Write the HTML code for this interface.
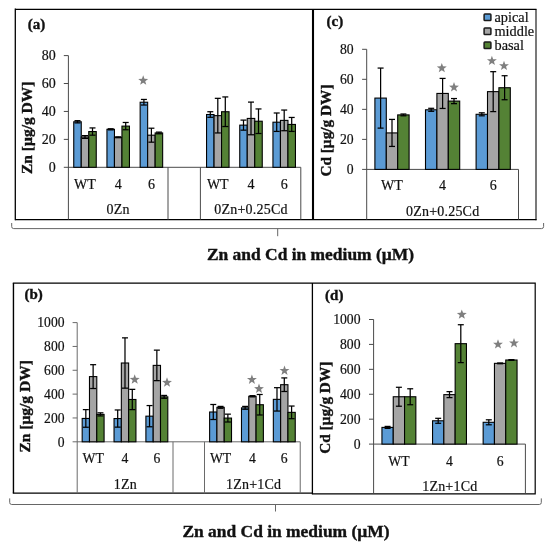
<!DOCTYPE html>
<html lang="en"><head><meta charset="utf-8"><title>Zn and Cd in medium</title>
<style>html,body{margin:0;padding:0;background:#fff;}body{width:550px;height:547px;overflow:hidden;}svg{display:block;font-family:"Liberation Serif","Times New Roman",serif;fill:#111;}text{stroke:#111;stroke-width:0.2px;}text.b{font-weight:bold;stroke-width:0.38px;}</style>
</head><body>
<svg width="550" height="547" viewBox="0 0 550 547">
<rect x="0" y="0" width="550" height="547" fill="#fff"/>
<line x1="15.30" y1="8.60" x2="15.30" y2="220.20" stroke="#000" stroke-width="1.3"/>
<line x1="15.30" y1="9.35" x2="536.50" y2="9.35" stroke="#000" stroke-width="1.3"/>
<line x1="536.00" y1="9.20" x2="536.00" y2="220.20" stroke="#000" stroke-width="1.05"/>
<line x1="15.30" y1="219.65" x2="536.50" y2="219.65" stroke="#000" stroke-width="1.15"/>
<line x1="313.00" y1="9.20" x2="313.00" y2="219.70" stroke="#000" stroke-width="2.1"/>
<path d="M12.8 283.1 H535.2 V493.8 H312.4" fill="none" stroke="#000" stroke-width="1.2"/>
<path d="M12.8 493.2 H312.4" fill="none" stroke="#000" stroke-width="1.2"/>
<line x1="13.45" y1="283.10" x2="13.45" y2="493.20" stroke="#000" stroke-width="1.4"/>
<line x1="312.40" y1="283.00" x2="312.40" y2="494.40" stroke="#000" stroke-width="1.3"/>
<path d="M11.7 223.0 V226.6 Q11.7 228.6 13.7 228.6 H541.6 Q543.6 228.6 543.6 226.6 V223.0" fill="none" stroke="#666" stroke-width="1"/>
<line x1="277.70" y1="228.60" x2="277.70" y2="236.20" stroke="#666" stroke-width="1"/>
<path d="M9.7 498.4 V502.5 Q9.7 504.5 11.7 504.5 H539.3 Q541.3 504.5 541.3 502.5 V498.4" fill="none" stroke="#666" stroke-width="1"/>
<line x1="275.50" y1="504.50" x2="275.50" y2="511.50" stroke="#666" stroke-width="1"/>
<text x="310.50" y="260.00" font-size="17.45" text-anchor="middle" class="b">Zn and Cd in medium (µM)</text>
<text x="286.00" y="537.00" font-size="17.45" text-anchor="middle" class="b">Zn and Cd in medium (µM)</text>
<text x="27.70" y="28.60" font-size="15" text-anchor="start" class="b">(a)</text>
<text x="326.50" y="26.00" font-size="15" text-anchor="start" class="b">(c)</text>
<text x="24.40" y="299.10" font-size="15" text-anchor="start" class="b">(b)</text>
<text x="325.10" y="300.30" font-size="15" text-anchor="start" class="b">(d)</text>
<text x="32.30" y="174.00" font-size="15.5" text-anchor="start" class="b" transform="rotate(-90 32.30 174.00)">Zn [µg/g DW]</text>
<text x="331.30" y="176.60" font-size="15.3" text-anchor="start" class="b" transform="rotate(-90 331.30 176.60)">Cd [µg/g DW]</text>
<text x="30.20" y="452.60" font-size="15.5" text-anchor="start" class="b" transform="rotate(-90 30.20 452.60)">Zn [µg/g DW]</text>
<text x="329.80" y="453.80" font-size="15.3" text-anchor="start" class="b" transform="rotate(-90 329.80 453.80)">Cd [µg/g DW]</text>
<line x1="68.40" y1="55.60" x2="68.40" y2="219.60" stroke="#4a4a4a" stroke-width="1"/>
<line x1="63.80" y1="167.30" x2="300.80" y2="167.30" stroke="#4a4a4a" stroke-width="1"/>
<line x1="63.80" y1="139.38" x2="68.40" y2="139.38" stroke="#4a4a4a" stroke-width="1"/>
<line x1="63.80" y1="111.45" x2="68.40" y2="111.45" stroke="#4a4a4a" stroke-width="1"/>
<line x1="63.80" y1="83.53" x2="68.40" y2="83.53" stroke="#4a4a4a" stroke-width="1"/>
<line x1="63.80" y1="55.60" x2="68.40" y2="55.60" stroke="#4a4a4a" stroke-width="1"/>
<text x="55.70" y="172.00" font-size="14" text-anchor="end" letter-spacing="0">0</text>
<text x="55.70" y="144.07" font-size="14" text-anchor="end" letter-spacing="0">20</text>
<text x="55.70" y="116.15" font-size="14" text-anchor="end" letter-spacing="0">40</text>
<text x="55.70" y="88.23" font-size="14" text-anchor="end" letter-spacing="0">60</text>
<text x="55.70" y="60.30" font-size="14" text-anchor="end" letter-spacing="0">80</text>
<line x1="168.00" y1="167.30" x2="168.00" y2="219.60" stroke="#4a4a4a" stroke-width="1"/>
<line x1="200.40" y1="167.30" x2="200.40" y2="219.60" stroke="#4a4a4a" stroke-width="1"/>
<line x1="300.80" y1="167.30" x2="300.80" y2="219.60" stroke="#4a4a4a" stroke-width="1"/>
<rect x="73.75" y="121.78" width="7.50" height="45.52" fill="#5b9bd5" stroke="#000" stroke-width="1.1"/>
<rect x="81.25" y="137.00" width="7.50" height="30.30" fill="#a5a5a5" stroke="#000" stroke-width="1.1"/>
<rect x="88.75" y="131.56" width="7.50" height="35.74" fill="#548235" stroke="#000" stroke-width="1.1"/>
<line x1="77.50" y1="120.67" x2="77.50" y2="122.90" stroke="#000" stroke-width="1.25"/>
<line x1="74.50" y1="120.67" x2="80.50" y2="120.67" stroke="#000" stroke-width="1.25"/>
<line x1="74.50" y1="122.90" x2="80.50" y2="122.90" stroke="#000" stroke-width="1.25"/>
<line x1="85.00" y1="135.61" x2="85.00" y2="138.40" stroke="#000" stroke-width="1.25"/>
<line x1="82.00" y1="135.61" x2="88.00" y2="135.61" stroke="#000" stroke-width="1.25"/>
<line x1="82.00" y1="138.40" x2="88.00" y2="138.40" stroke="#000" stroke-width="1.25"/>
<line x1="92.50" y1="127.93" x2="92.50" y2="135.19" stroke="#000" stroke-width="1.25"/>
<line x1="89.50" y1="127.93" x2="95.50" y2="127.93" stroke="#000" stroke-width="1.25"/>
<line x1="89.50" y1="135.19" x2="95.50" y2="135.19" stroke="#000" stroke-width="1.25"/>
<rect x="106.95" y="129.32" width="7.50" height="37.98" fill="#5b9bd5" stroke="#000" stroke-width="1.1"/>
<rect x="114.45" y="137.28" width="7.50" height="30.02" fill="#a5a5a5" stroke="#000" stroke-width="1.1"/>
<rect x="121.95" y="126.11" width="7.50" height="41.19" fill="#548235" stroke="#000" stroke-width="1.1"/>
<line x1="110.70" y1="128.76" x2="110.70" y2="129.88" stroke="#000" stroke-width="1.25"/>
<line x1="107.70" y1="128.76" x2="113.70" y2="128.76" stroke="#000" stroke-width="1.25"/>
<line x1="107.70" y1="129.88" x2="113.70" y2="129.88" stroke="#000" stroke-width="1.25"/>
<line x1="118.20" y1="136.86" x2="118.20" y2="137.70" stroke="#000" stroke-width="1.25"/>
<line x1="115.20" y1="136.86" x2="121.20" y2="136.86" stroke="#000" stroke-width="1.25"/>
<line x1="115.20" y1="137.70" x2="121.20" y2="137.70" stroke="#000" stroke-width="1.25"/>
<line x1="125.70" y1="122.48" x2="125.70" y2="129.74" stroke="#000" stroke-width="1.25"/>
<line x1="122.70" y1="122.48" x2="128.70" y2="122.48" stroke="#000" stroke-width="1.25"/>
<line x1="122.70" y1="129.74" x2="128.70" y2="129.74" stroke="#000" stroke-width="1.25"/>
<rect x="140.15" y="102.23" width="7.50" height="65.07" fill="#5b9bd5" stroke="#000" stroke-width="1.1"/>
<rect x="147.65" y="135.19" width="7.50" height="32.11" fill="#a5a5a5" stroke="#000" stroke-width="1.1"/>
<rect x="155.15" y="132.95" width="7.50" height="34.35" fill="#548235" stroke="#000" stroke-width="1.1"/>
<line x1="143.90" y1="99.44" x2="143.90" y2="105.03" stroke="#000" stroke-width="1.25"/>
<line x1="140.90" y1="99.44" x2="146.90" y2="99.44" stroke="#000" stroke-width="1.25"/>
<line x1="140.90" y1="105.03" x2="146.90" y2="105.03" stroke="#000" stroke-width="1.25"/>
<line x1="151.40" y1="128.21" x2="151.40" y2="142.17" stroke="#000" stroke-width="1.25"/>
<line x1="148.40" y1="128.21" x2="154.40" y2="128.21" stroke="#000" stroke-width="1.25"/>
<line x1="148.40" y1="142.17" x2="154.40" y2="142.17" stroke="#000" stroke-width="1.25"/>
<line x1="158.90" y1="132.11" x2="158.90" y2="133.79" stroke="#000" stroke-width="1.25"/>
<line x1="155.90" y1="132.11" x2="161.90" y2="132.11" stroke="#000" stroke-width="1.25"/>
<line x1="155.90" y1="133.79" x2="161.90" y2="133.79" stroke="#000" stroke-width="1.25"/>
<rect x="206.55" y="114.52" width="7.50" height="52.78" fill="#5b9bd5" stroke="#000" stroke-width="1.1"/>
<rect x="214.05" y="115.64" width="7.50" height="51.66" fill="#a5a5a5" stroke="#000" stroke-width="1.1"/>
<rect x="221.55" y="111.73" width="7.50" height="55.57" fill="#548235" stroke="#000" stroke-width="1.1"/>
<line x1="210.30" y1="111.73" x2="210.30" y2="117.31" stroke="#000" stroke-width="1.25"/>
<line x1="207.30" y1="111.73" x2="213.30" y2="111.73" stroke="#000" stroke-width="1.25"/>
<line x1="207.30" y1="117.31" x2="213.30" y2="117.31" stroke="#000" stroke-width="1.25"/>
<line x1="217.80" y1="98.33" x2="217.80" y2="132.95" stroke="#000" stroke-width="1.25"/>
<line x1="214.80" y1="98.33" x2="220.80" y2="98.33" stroke="#000" stroke-width="1.25"/>
<line x1="214.80" y1="132.95" x2="220.80" y2="132.95" stroke="#000" stroke-width="1.25"/>
<line x1="225.30" y1="96.93" x2="225.30" y2="126.53" stroke="#000" stroke-width="1.25"/>
<line x1="222.30" y1="96.93" x2="228.30" y2="96.93" stroke="#000" stroke-width="1.25"/>
<line x1="222.30" y1="126.53" x2="228.30" y2="126.53" stroke="#000" stroke-width="1.25"/>
<rect x="239.75" y="125.13" width="7.50" height="42.17" fill="#5b9bd5" stroke="#000" stroke-width="1.1"/>
<rect x="247.25" y="118.43" width="7.50" height="48.87" fill="#a5a5a5" stroke="#000" stroke-width="1.1"/>
<rect x="254.75" y="121.22" width="7.50" height="46.08" fill="#548235" stroke="#000" stroke-width="1.1"/>
<line x1="243.50" y1="120.11" x2="243.50" y2="130.16" stroke="#000" stroke-width="1.25"/>
<line x1="240.50" y1="120.11" x2="246.50" y2="120.11" stroke="#000" stroke-width="1.25"/>
<line x1="240.50" y1="130.16" x2="246.50" y2="130.16" stroke="#000" stroke-width="1.25"/>
<line x1="251.00" y1="102.10" x2="251.00" y2="134.77" stroke="#000" stroke-width="1.25"/>
<line x1="248.00" y1="102.10" x2="254.00" y2="102.10" stroke="#000" stroke-width="1.25"/>
<line x1="248.00" y1="134.77" x2="254.00" y2="134.77" stroke="#000" stroke-width="1.25"/>
<line x1="258.50" y1="108.94" x2="258.50" y2="133.51" stroke="#000" stroke-width="1.25"/>
<line x1="255.50" y1="108.94" x2="261.50" y2="108.94" stroke="#000" stroke-width="1.25"/>
<line x1="255.50" y1="133.51" x2="261.50" y2="133.51" stroke="#000" stroke-width="1.25"/>
<rect x="272.95" y="122.20" width="7.50" height="45.10" fill="#5b9bd5" stroke="#000" stroke-width="1.1"/>
<rect x="280.45" y="120.39" width="7.50" height="46.91" fill="#a5a5a5" stroke="#000" stroke-width="1.1"/>
<rect x="287.95" y="124.44" width="7.50" height="42.86" fill="#548235" stroke="#000" stroke-width="1.1"/>
<line x1="276.70" y1="112.99" x2="276.70" y2="131.42" stroke="#000" stroke-width="1.25"/>
<line x1="273.70" y1="112.99" x2="279.70" y2="112.99" stroke="#000" stroke-width="1.25"/>
<line x1="273.70" y1="131.42" x2="279.70" y2="131.42" stroke="#000" stroke-width="1.25"/>
<line x1="284.20" y1="110.05" x2="284.20" y2="130.72" stroke="#000" stroke-width="1.25"/>
<line x1="281.20" y1="110.05" x2="287.20" y2="110.05" stroke="#000" stroke-width="1.25"/>
<line x1="281.20" y1="130.72" x2="287.20" y2="130.72" stroke="#000" stroke-width="1.25"/>
<line x1="291.70" y1="117.45" x2="291.70" y2="131.42" stroke="#000" stroke-width="1.25"/>
<line x1="288.70" y1="117.45" x2="294.70" y2="117.45" stroke="#000" stroke-width="1.25"/>
<line x1="288.70" y1="131.42" x2="294.70" y2="131.42" stroke="#000" stroke-width="1.25"/>
<text x="85.00" y="188.90" font-size="14" text-anchor="middle">WT</text>
<text x="118.20" y="188.90" font-size="14" text-anchor="middle">4</text>
<text x="151.40" y="188.90" font-size="14" text-anchor="middle">6</text>
<text x="217.80" y="188.90" font-size="14" text-anchor="middle">WT</text>
<text x="251.00" y="188.90" font-size="14" text-anchor="middle">4</text>
<text x="284.20" y="188.90" font-size="14" text-anchor="middle">6</text>
<text x="118.20" y="214.00" font-size="14" text-anchor="middle" letter-spacing="0.2">0Zn</text>
<text x="251.00" y="214.00" font-size="14" text-anchor="middle" letter-spacing="0.2">0Zn+0.25Cd</text>
<polygon points="143.20,75.29 144.45,78.77 148.15,78.89 145.23,81.15 146.26,84.70 143.20,82.63 140.14,84.70 141.17,81.15 138.25,78.89 141.95,78.77" fill="#7f7f7f"/>
<line x1="366.70" y1="49.30" x2="366.70" y2="219.60" stroke="#4a4a4a" stroke-width="1"/>
<line x1="362.10" y1="169.40" x2="518.50" y2="169.40" stroke="#4a4a4a" stroke-width="1"/>
<line x1="362.10" y1="139.38" x2="366.70" y2="139.38" stroke="#4a4a4a" stroke-width="1"/>
<line x1="362.10" y1="109.35" x2="366.70" y2="109.35" stroke="#4a4a4a" stroke-width="1"/>
<line x1="362.10" y1="79.32" x2="366.70" y2="79.32" stroke="#4a4a4a" stroke-width="1"/>
<line x1="362.10" y1="49.30" x2="366.70" y2="49.30" stroke="#4a4a4a" stroke-width="1"/>
<text x="353.70" y="174.10" font-size="13.7" text-anchor="end" letter-spacing="0">0</text>
<text x="353.70" y="144.07" font-size="13.7" text-anchor="end" letter-spacing="0">20</text>
<text x="353.70" y="114.05" font-size="13.7" text-anchor="end" letter-spacing="0">40</text>
<text x="353.70" y="84.02" font-size="13.7" text-anchor="end" letter-spacing="0">60</text>
<text x="353.70" y="54.00" font-size="13.7" text-anchor="end" letter-spacing="0">80</text>
<line x1="518.50" y1="169.40" x2="518.50" y2="219.60" stroke="#4a4a4a" stroke-width="1"/>
<rect x="374.90" y="98.09" width="11.40" height="71.31" fill="#5b9bd5" stroke="#000" stroke-width="1.1"/>
<rect x="386.30" y="132.92" width="11.40" height="36.48" fill="#a5a5a5" stroke="#000" stroke-width="1.1"/>
<rect x="397.70" y="114.90" width="11.40" height="54.50" fill="#548235" stroke="#000" stroke-width="1.1"/>
<line x1="380.60" y1="68.07" x2="380.60" y2="128.12" stroke="#000" stroke-width="1.25"/>
<line x1="377.60" y1="68.07" x2="383.60" y2="68.07" stroke="#000" stroke-width="1.25"/>
<line x1="377.60" y1="128.12" x2="383.60" y2="128.12" stroke="#000" stroke-width="1.25"/>
<line x1="392.00" y1="119.41" x2="392.00" y2="146.43" stroke="#000" stroke-width="1.25"/>
<line x1="389.00" y1="119.41" x2="395.00" y2="119.41" stroke="#000" stroke-width="1.25"/>
<line x1="389.00" y1="146.43" x2="395.00" y2="146.43" stroke="#000" stroke-width="1.25"/>
<line x1="403.40" y1="114.00" x2="403.40" y2="115.81" stroke="#000" stroke-width="1.25"/>
<line x1="400.40" y1="114.00" x2="406.40" y2="114.00" stroke="#000" stroke-width="1.25"/>
<line x1="400.40" y1="115.81" x2="406.40" y2="115.81" stroke="#000" stroke-width="1.25"/>
<rect x="425.50" y="109.80" width="11.40" height="59.60" fill="#5b9bd5" stroke="#000" stroke-width="1.1"/>
<rect x="436.90" y="93.44" width="11.40" height="75.96" fill="#a5a5a5" stroke="#000" stroke-width="1.1"/>
<rect x="448.30" y="101.09" width="11.40" height="68.31" fill="#548235" stroke="#000" stroke-width="1.1"/>
<line x1="431.20" y1="108.30" x2="431.20" y2="111.30" stroke="#000" stroke-width="1.25"/>
<line x1="428.20" y1="108.30" x2="434.20" y2="108.30" stroke="#000" stroke-width="1.25"/>
<line x1="428.20" y1="111.30" x2="434.20" y2="111.30" stroke="#000" stroke-width="1.25"/>
<line x1="442.60" y1="78.42" x2="442.60" y2="108.45" stroke="#000" stroke-width="1.25"/>
<line x1="439.60" y1="78.42" x2="445.60" y2="78.42" stroke="#000" stroke-width="1.25"/>
<line x1="439.60" y1="108.45" x2="445.60" y2="108.45" stroke="#000" stroke-width="1.25"/>
<line x1="454.00" y1="98.54" x2="454.00" y2="103.65" stroke="#000" stroke-width="1.25"/>
<line x1="451.00" y1="98.54" x2="457.00" y2="98.54" stroke="#000" stroke-width="1.25"/>
<line x1="451.00" y1="103.65" x2="457.00" y2="103.65" stroke="#000" stroke-width="1.25"/>
<rect x="476.10" y="114.30" width="11.40" height="55.10" fill="#5b9bd5" stroke="#000" stroke-width="1.1"/>
<rect x="487.50" y="91.64" width="11.40" height="77.76" fill="#a5a5a5" stroke="#000" stroke-width="1.1"/>
<rect x="498.90" y="87.73" width="11.40" height="81.67" fill="#548235" stroke="#000" stroke-width="1.1"/>
<line x1="481.80" y1="112.80" x2="481.80" y2="115.81" stroke="#000" stroke-width="1.25"/>
<line x1="478.80" y1="112.80" x2="484.80" y2="112.80" stroke="#000" stroke-width="1.25"/>
<line x1="478.80" y1="115.81" x2="484.80" y2="115.81" stroke="#000" stroke-width="1.25"/>
<line x1="493.20" y1="71.67" x2="493.20" y2="111.60" stroke="#000" stroke-width="1.25"/>
<line x1="490.20" y1="71.67" x2="496.20" y2="71.67" stroke="#000" stroke-width="1.25"/>
<line x1="490.20" y1="111.60" x2="496.20" y2="111.60" stroke="#000" stroke-width="1.25"/>
<line x1="504.60" y1="75.72" x2="504.60" y2="99.74" stroke="#000" stroke-width="1.25"/>
<line x1="501.60" y1="75.72" x2="507.60" y2="75.72" stroke="#000" stroke-width="1.25"/>
<line x1="501.60" y1="99.74" x2="507.60" y2="99.74" stroke="#000" stroke-width="1.25"/>
<text x="392.00" y="190.20" font-size="14" text-anchor="middle">WT</text>
<text x="442.60" y="190.20" font-size="14" text-anchor="middle">4</text>
<text x="493.20" y="190.20" font-size="14" text-anchor="middle">6</text>
<text x="442.70" y="215.60" font-size="14" text-anchor="middle" letter-spacing="0.2">0Zn+0.25Cd</text>
<polygon points="441.80,62.89 443.05,66.37 446.75,66.49 443.83,68.75 444.86,72.30 441.80,70.23 438.74,72.30 439.77,68.75 436.85,66.49 440.55,66.37" fill="#7f7f7f"/>
<polygon points="454.00,82.09 455.25,85.57 458.95,85.69 456.03,87.95 457.06,91.50 454.00,89.43 450.94,91.50 451.97,87.95 449.05,85.69 452.75,85.57" fill="#7f7f7f"/>
<polygon points="491.90,55.69 493.15,59.17 496.85,59.29 493.93,61.55 494.96,65.10 491.90,63.03 488.84,65.10 489.87,61.55 486.95,59.29 490.65,59.17" fill="#7f7f7f"/>
<polygon points="504.00,60.69 505.25,64.17 508.95,64.29 506.03,66.55 507.06,70.10 504.00,68.03 500.94,70.10 501.97,66.55 499.05,64.29 502.75,64.17" fill="#7f7f7f"/>
<line x1="77.20" y1="322.60" x2="77.20" y2="493.30" stroke="#6a6a6a" stroke-width="1"/>
<line x1="72.60" y1="441.80" x2="300.22" y2="441.80" stroke="#6a6a6a" stroke-width="1"/>
<line x1="72.60" y1="417.96" x2="77.20" y2="417.96" stroke="#6a6a6a" stroke-width="1"/>
<line x1="72.60" y1="394.12" x2="77.20" y2="394.12" stroke="#6a6a6a" stroke-width="1"/>
<line x1="72.60" y1="370.28" x2="77.20" y2="370.28" stroke="#6a6a6a" stroke-width="1"/>
<line x1="72.60" y1="346.44" x2="77.20" y2="346.44" stroke="#6a6a6a" stroke-width="1"/>
<line x1="72.60" y1="322.60" x2="77.20" y2="322.60" stroke="#6a6a6a" stroke-width="1"/>
<text x="64.50" y="446.50" font-size="13.6" text-anchor="end" letter-spacing="0">0</text>
<text x="64.50" y="422.66" font-size="13.6" text-anchor="end" letter-spacing="0">200</text>
<text x="64.50" y="398.82" font-size="13.6" text-anchor="end" letter-spacing="0">400</text>
<text x="64.50" y="374.98" font-size="13.6" text-anchor="end" letter-spacing="0">600</text>
<text x="64.50" y="351.14" font-size="13.6" text-anchor="end" letter-spacing="0">800</text>
<text x="64.50" y="327.30" font-size="13.6" text-anchor="end" letter-spacing="0">1000</text>
<line x1="173.00" y1="441.80" x2="173.00" y2="493.30" stroke="#6a6a6a" stroke-width="1"/>
<line x1="204.50" y1="441.80" x2="204.50" y2="493.30" stroke="#6a6a6a" stroke-width="1"/>
<line x1="300.22" y1="441.80" x2="300.22" y2="493.30" stroke="#6a6a6a" stroke-width="1"/>
<rect x="82.18" y="418.44" width="7.30" height="23.36" fill="#5b9bd5" stroke="#000" stroke-width="1.1"/>
<rect x="89.48" y="376.60" width="7.30" height="65.20" fill="#a5a5a5" stroke="#000" stroke-width="1.1"/>
<rect x="96.78" y="414.38" width="7.30" height="27.42" fill="#548235" stroke="#000" stroke-width="1.1"/>
<line x1="85.83" y1="409.62" x2="85.83" y2="427.26" stroke="#000" stroke-width="1.25"/>
<line x1="82.83" y1="409.62" x2="88.83" y2="409.62" stroke="#000" stroke-width="1.25"/>
<line x1="82.83" y1="427.26" x2="88.83" y2="427.26" stroke="#000" stroke-width="1.25"/>
<line x1="93.13" y1="364.68" x2="93.13" y2="388.52" stroke="#000" stroke-width="1.25"/>
<line x1="90.13" y1="364.68" x2="96.13" y2="364.68" stroke="#000" stroke-width="1.25"/>
<line x1="90.13" y1="388.52" x2="96.13" y2="388.52" stroke="#000" stroke-width="1.25"/>
<line x1="100.43" y1="412.83" x2="100.43" y2="415.93" stroke="#000" stroke-width="1.25"/>
<line x1="97.43" y1="412.83" x2="103.43" y2="412.83" stroke="#000" stroke-width="1.25"/>
<line x1="97.43" y1="415.93" x2="103.43" y2="415.93" stroke="#000" stroke-width="1.25"/>
<rect x="114.04" y="418.56" width="7.30" height="23.24" fill="#5b9bd5" stroke="#000" stroke-width="1.1"/>
<rect x="121.34" y="363.01" width="7.30" height="78.79" fill="#a5a5a5" stroke="#000" stroke-width="1.1"/>
<rect x="128.64" y="399.48" width="7.30" height="42.32" fill="#548235" stroke="#000" stroke-width="1.1"/>
<line x1="117.69" y1="409.97" x2="117.69" y2="427.14" stroke="#000" stroke-width="1.25"/>
<line x1="114.69" y1="409.97" x2="120.69" y2="409.97" stroke="#000" stroke-width="1.25"/>
<line x1="114.69" y1="427.14" x2="120.69" y2="427.14" stroke="#000" stroke-width="1.25"/>
<line x1="124.99" y1="337.86" x2="124.99" y2="388.16" stroke="#000" stroke-width="1.25"/>
<line x1="121.99" y1="337.86" x2="127.99" y2="337.86" stroke="#000" stroke-width="1.25"/>
<line x1="121.99" y1="388.16" x2="127.99" y2="388.16" stroke="#000" stroke-width="1.25"/>
<line x1="132.29" y1="389.35" x2="132.29" y2="409.62" stroke="#000" stroke-width="1.25"/>
<line x1="129.29" y1="389.35" x2="135.29" y2="389.35" stroke="#000" stroke-width="1.25"/>
<line x1="129.29" y1="409.62" x2="135.29" y2="409.62" stroke="#000" stroke-width="1.25"/>
<rect x="145.90" y="416.17" width="7.30" height="25.63" fill="#5b9bd5" stroke="#000" stroke-width="1.1"/>
<rect x="153.20" y="365.39" width="7.30" height="76.41" fill="#a5a5a5" stroke="#000" stroke-width="1.1"/>
<rect x="160.50" y="396.86" width="7.30" height="44.94" fill="#548235" stroke="#000" stroke-width="1.1"/>
<line x1="149.55" y1="405.56" x2="149.55" y2="426.78" stroke="#000" stroke-width="1.25"/>
<line x1="146.55" y1="405.56" x2="152.55" y2="405.56" stroke="#000" stroke-width="1.25"/>
<line x1="146.55" y1="426.78" x2="152.55" y2="426.78" stroke="#000" stroke-width="1.25"/>
<line x1="156.85" y1="350.14" x2="156.85" y2="380.65" stroke="#000" stroke-width="1.25"/>
<line x1="153.85" y1="350.14" x2="159.85" y2="350.14" stroke="#000" stroke-width="1.25"/>
<line x1="153.85" y1="380.65" x2="159.85" y2="380.65" stroke="#000" stroke-width="1.25"/>
<line x1="164.15" y1="395.43" x2="164.15" y2="398.29" stroke="#000" stroke-width="1.25"/>
<line x1="161.15" y1="395.43" x2="167.15" y2="395.43" stroke="#000" stroke-width="1.25"/>
<line x1="161.15" y1="398.29" x2="167.15" y2="398.29" stroke="#000" stroke-width="1.25"/>
<rect x="209.62" y="412.00" width="7.30" height="29.80" fill="#5b9bd5" stroke="#000" stroke-width="1.1"/>
<rect x="216.92" y="407.35" width="7.30" height="34.45" fill="#a5a5a5" stroke="#000" stroke-width="1.1"/>
<rect x="224.22" y="418.08" width="7.30" height="23.72" fill="#548235" stroke="#000" stroke-width="1.1"/>
<line x1="213.27" y1="404.49" x2="213.27" y2="419.51" stroke="#000" stroke-width="1.25"/>
<line x1="210.27" y1="404.49" x2="216.27" y2="404.49" stroke="#000" stroke-width="1.25"/>
<line x1="210.27" y1="419.51" x2="216.27" y2="419.51" stroke="#000" stroke-width="1.25"/>
<line x1="220.57" y1="406.40" x2="220.57" y2="408.30" stroke="#000" stroke-width="1.25"/>
<line x1="217.57" y1="406.40" x2="223.57" y2="406.40" stroke="#000" stroke-width="1.25"/>
<line x1="217.57" y1="408.30" x2="223.57" y2="408.30" stroke="#000" stroke-width="1.25"/>
<line x1="227.87" y1="414.15" x2="227.87" y2="422.01" stroke="#000" stroke-width="1.25"/>
<line x1="224.87" y1="414.15" x2="230.87" y2="414.15" stroke="#000" stroke-width="1.25"/>
<line x1="224.87" y1="422.01" x2="230.87" y2="422.01" stroke="#000" stroke-width="1.25"/>
<rect x="241.48" y="407.83" width="7.30" height="33.97" fill="#5b9bd5" stroke="#000" stroke-width="1.1"/>
<rect x="248.78" y="396.27" width="7.30" height="45.53" fill="#a5a5a5" stroke="#000" stroke-width="1.1"/>
<rect x="256.08" y="404.73" width="7.30" height="37.07" fill="#548235" stroke="#000" stroke-width="1.1"/>
<line x1="245.13" y1="406.40" x2="245.13" y2="409.26" stroke="#000" stroke-width="1.25"/>
<line x1="242.13" y1="406.40" x2="248.13" y2="406.40" stroke="#000" stroke-width="1.25"/>
<line x1="242.13" y1="409.26" x2="248.13" y2="409.26" stroke="#000" stroke-width="1.25"/>
<line x1="252.43" y1="395.67" x2="252.43" y2="396.86" stroke="#000" stroke-width="1.25"/>
<line x1="249.43" y1="395.67" x2="255.43" y2="395.67" stroke="#000" stroke-width="1.25"/>
<line x1="249.43" y1="396.86" x2="255.43" y2="396.86" stroke="#000" stroke-width="1.25"/>
<line x1="259.73" y1="394.48" x2="259.73" y2="414.98" stroke="#000" stroke-width="1.25"/>
<line x1="256.73" y1="394.48" x2="262.73" y2="394.48" stroke="#000" stroke-width="1.25"/>
<line x1="256.73" y1="414.98" x2="262.73" y2="414.98" stroke="#000" stroke-width="1.25"/>
<rect x="273.34" y="399.36" width="7.30" height="42.44" fill="#5b9bd5" stroke="#000" stroke-width="1.1"/>
<rect x="280.64" y="384.70" width="7.30" height="57.10" fill="#a5a5a5" stroke="#000" stroke-width="1.1"/>
<rect x="287.94" y="412.36" width="7.30" height="29.44" fill="#548235" stroke="#000" stroke-width="1.1"/>
<line x1="276.99" y1="387.68" x2="276.99" y2="411.05" stroke="#000" stroke-width="1.25"/>
<line x1="273.99" y1="387.68" x2="279.99" y2="387.68" stroke="#000" stroke-width="1.25"/>
<line x1="273.99" y1="411.05" x2="279.99" y2="411.05" stroke="#000" stroke-width="1.25"/>
<line x1="284.29" y1="377.91" x2="284.29" y2="391.50" stroke="#000" stroke-width="1.25"/>
<line x1="281.29" y1="377.91" x2="287.29" y2="377.91" stroke="#000" stroke-width="1.25"/>
<line x1="281.29" y1="391.50" x2="287.29" y2="391.50" stroke="#000" stroke-width="1.25"/>
<line x1="291.59" y1="406.04" x2="291.59" y2="418.68" stroke="#000" stroke-width="1.25"/>
<line x1="288.59" y1="406.04" x2="294.59" y2="406.04" stroke="#000" stroke-width="1.25"/>
<line x1="288.59" y1="418.68" x2="294.59" y2="418.68" stroke="#000" stroke-width="1.25"/>
<text x="93.13" y="462.80" font-size="13.7" text-anchor="middle">WT</text>
<text x="124.99" y="462.80" font-size="13.7" text-anchor="middle">4</text>
<text x="156.85" y="462.80" font-size="13.7" text-anchor="middle">6</text>
<text x="220.57" y="462.80" font-size="13.7" text-anchor="middle">WT</text>
<text x="252.43" y="462.80" font-size="13.7" text-anchor="middle">4</text>
<text x="284.29" y="462.80" font-size="13.7" text-anchor="middle">6</text>
<text x="125.30" y="488.70" font-size="14" text-anchor="middle" letter-spacing="0.2">1Zn</text>
<text x="253.70" y="488.70" font-size="14" text-anchor="middle" letter-spacing="0.2">1Zn+1Cd</text>
<polygon points="134.70,374.29 135.95,377.77 139.65,377.89 136.73,380.15 137.76,383.70 134.70,381.63 131.64,383.70 132.67,380.15 129.75,377.89 133.45,377.77" fill="#7f7f7f"/>
<polygon points="167.00,377.29 168.25,380.77 171.95,380.89 169.03,383.15 170.06,386.70 167.00,384.63 163.94,386.70 164.97,383.15 162.05,380.89 165.75,380.77" fill="#7f7f7f"/>
<polygon points="251.90,374.49 253.15,377.97 256.85,378.09 253.93,380.35 254.96,383.90 251.90,381.83 248.84,383.90 249.87,380.35 246.95,378.09 250.65,377.97" fill="#7f7f7f"/>
<polygon points="259.00,383.59 260.25,387.07 263.95,387.19 261.03,389.45 262.06,393.00 259.00,390.93 255.94,393.00 256.97,389.45 254.05,387.19 257.75,387.07" fill="#7f7f7f"/>
<polygon points="284.50,365.49 285.75,368.97 289.45,369.09 286.53,371.35 287.56,374.90 284.50,372.83 281.44,374.90 282.47,371.35 279.55,369.09 283.25,368.97" fill="#7f7f7f"/>
<line x1="373.60" y1="319.50" x2="373.60" y2="493.30" stroke="#4a4a4a" stroke-width="1"/>
<line x1="369.00" y1="444.10" x2="525.40" y2="444.10" stroke="#4a4a4a" stroke-width="1"/>
<line x1="369.00" y1="419.18" x2="373.60" y2="419.18" stroke="#4a4a4a" stroke-width="1"/>
<line x1="369.00" y1="394.26" x2="373.60" y2="394.26" stroke="#4a4a4a" stroke-width="1"/>
<line x1="369.00" y1="369.34" x2="373.60" y2="369.34" stroke="#4a4a4a" stroke-width="1"/>
<line x1="369.00" y1="344.42" x2="373.60" y2="344.42" stroke="#4a4a4a" stroke-width="1"/>
<line x1="369.00" y1="319.50" x2="373.60" y2="319.50" stroke="#4a4a4a" stroke-width="1"/>
<text x="360.50" y="448.80" font-size="13.7" text-anchor="end" letter-spacing="0">0</text>
<text x="360.50" y="423.88" font-size="13.7" text-anchor="end" letter-spacing="0">200</text>
<text x="360.50" y="398.96" font-size="13.7" text-anchor="end" letter-spacing="0">400</text>
<text x="360.50" y="374.04" font-size="13.7" text-anchor="end" letter-spacing="0">600</text>
<text x="360.50" y="349.12" font-size="13.7" text-anchor="end" letter-spacing="0">800</text>
<text x="360.50" y="324.20" font-size="13.7" text-anchor="end" letter-spacing="0">1000</text>
<line x1="525.40" y1="444.10" x2="525.40" y2="493.30" stroke="#4a4a4a" stroke-width="1"/>
<rect x="381.95" y="427.40" width="11.30" height="16.70" fill="#5b9bd5" stroke="#000" stroke-width="1.1"/>
<rect x="393.25" y="396.75" width="11.30" height="47.35" fill="#a5a5a5" stroke="#000" stroke-width="1.1"/>
<rect x="404.55" y="396.75" width="11.30" height="47.35" fill="#548235" stroke="#000" stroke-width="1.1"/>
<line x1="387.60" y1="426.41" x2="387.60" y2="428.40" stroke="#000" stroke-width="1.25"/>
<line x1="384.60" y1="426.41" x2="390.60" y2="426.41" stroke="#000" stroke-width="1.25"/>
<line x1="384.60" y1="428.40" x2="390.60" y2="428.40" stroke="#000" stroke-width="1.25"/>
<line x1="398.90" y1="387.28" x2="398.90" y2="406.22" stroke="#000" stroke-width="1.25"/>
<line x1="395.90" y1="387.28" x2="401.90" y2="387.28" stroke="#000" stroke-width="1.25"/>
<line x1="395.90" y1="406.22" x2="401.90" y2="406.22" stroke="#000" stroke-width="1.25"/>
<line x1="410.20" y1="388.78" x2="410.20" y2="404.73" stroke="#000" stroke-width="1.25"/>
<line x1="407.20" y1="388.78" x2="413.20" y2="388.78" stroke="#000" stroke-width="1.25"/>
<line x1="407.20" y1="404.73" x2="413.20" y2="404.73" stroke="#000" stroke-width="1.25"/>
<rect x="432.55" y="420.80" width="11.30" height="23.30" fill="#5b9bd5" stroke="#000" stroke-width="1.1"/>
<rect x="443.85" y="394.63" width="11.30" height="49.47" fill="#a5a5a5" stroke="#000" stroke-width="1.1"/>
<rect x="455.15" y="343.67" width="11.30" height="100.43" fill="#548235" stroke="#000" stroke-width="1.1"/>
<line x1="438.20" y1="418.31" x2="438.20" y2="423.29" stroke="#000" stroke-width="1.25"/>
<line x1="435.20" y1="418.31" x2="441.20" y2="418.31" stroke="#000" stroke-width="1.25"/>
<line x1="435.20" y1="423.29" x2="441.20" y2="423.29" stroke="#000" stroke-width="1.25"/>
<line x1="449.50" y1="391.64" x2="449.50" y2="397.62" stroke="#000" stroke-width="1.25"/>
<line x1="446.50" y1="391.64" x2="452.50" y2="391.64" stroke="#000" stroke-width="1.25"/>
<line x1="446.50" y1="397.62" x2="452.50" y2="397.62" stroke="#000" stroke-width="1.25"/>
<line x1="460.80" y1="324.73" x2="460.80" y2="362.61" stroke="#000" stroke-width="1.25"/>
<line x1="457.80" y1="324.73" x2="463.80" y2="324.73" stroke="#000" stroke-width="1.25"/>
<line x1="457.80" y1="362.61" x2="463.80" y2="362.61" stroke="#000" stroke-width="1.25"/>
<rect x="483.15" y="422.30" width="11.30" height="21.81" fill="#5b9bd5" stroke="#000" stroke-width="1.1"/>
<rect x="494.45" y="363.36" width="11.30" height="80.74" fill="#a5a5a5" stroke="#000" stroke-width="1.1"/>
<rect x="505.75" y="360.00" width="11.30" height="84.11" fill="#548235" stroke="#000" stroke-width="1.1"/>
<line x1="488.80" y1="419.80" x2="488.80" y2="424.79" stroke="#000" stroke-width="1.25"/>
<line x1="485.80" y1="419.80" x2="491.80" y2="419.80" stroke="#000" stroke-width="1.25"/>
<line x1="485.80" y1="424.79" x2="491.80" y2="424.79" stroke="#000" stroke-width="1.25"/>
<line x1="500.10" y1="362.99" x2="500.10" y2="363.73" stroke="#000" stroke-width="1.25"/>
<line x1="497.10" y1="362.99" x2="503.10" y2="362.99" stroke="#000" stroke-width="1.25"/>
<line x1="497.10" y1="363.73" x2="503.10" y2="363.73" stroke="#000" stroke-width="1.25"/>
<line x1="511.40" y1="359.62" x2="511.40" y2="360.37" stroke="#000" stroke-width="1.25"/>
<line x1="508.40" y1="359.62" x2="514.40" y2="359.62" stroke="#000" stroke-width="1.25"/>
<line x1="508.40" y1="360.37" x2="514.40" y2="360.37" stroke="#000" stroke-width="1.25"/>
<text x="398.90" y="465.50" font-size="13.7" text-anchor="middle">WT</text>
<text x="449.50" y="465.50" font-size="13.7" text-anchor="middle">4</text>
<text x="500.10" y="465.50" font-size="13.7" text-anchor="middle">6</text>
<text x="449.80" y="491.30" font-size="14" text-anchor="middle" letter-spacing="0.2">1Zn+1Cd</text>
<polygon points="461.80,309.39 463.05,312.87 466.75,312.99 463.83,315.25 464.86,318.80 461.80,316.73 458.74,318.80 459.77,315.25 456.85,312.99 460.55,312.87" fill="#7f7f7f"/>
<polygon points="498.00,339.19 499.25,342.67 502.95,342.79 500.03,345.05 501.06,348.60 498.00,346.53 494.94,348.60 495.97,345.05 493.05,342.79 496.75,342.67" fill="#7f7f7f"/>
<polygon points="514.00,337.99 515.25,341.47 518.95,341.59 516.03,343.85 517.06,347.40 514.00,345.33 510.94,347.40 511.97,343.85 509.05,341.59 512.75,341.47" fill="#7f7f7f"/>
<rect x="484.1" y="13.90" width="6.8" height="6.6" rx="0.8" fill="#5b9bd5" stroke="#1a1a1a" stroke-width="1.5"/>
<text x="494.50" y="21.50" font-size="14.3" text-anchor="start">apical</text>
<rect x="484.1" y="27.95" width="6.8" height="6.6" rx="0.8" fill="#a5a5a5" stroke="#1a1a1a" stroke-width="1.5"/>
<text x="494.50" y="35.55" font-size="14.3" text-anchor="start">middle</text>
<rect x="484.1" y="42.00" width="6.8" height="6.6" rx="0.8" fill="#548235" stroke="#1a1a1a" stroke-width="1.5"/>
<text x="494.50" y="49.60" font-size="14.3" text-anchor="start">basal</text>
</svg>
</body></html>
